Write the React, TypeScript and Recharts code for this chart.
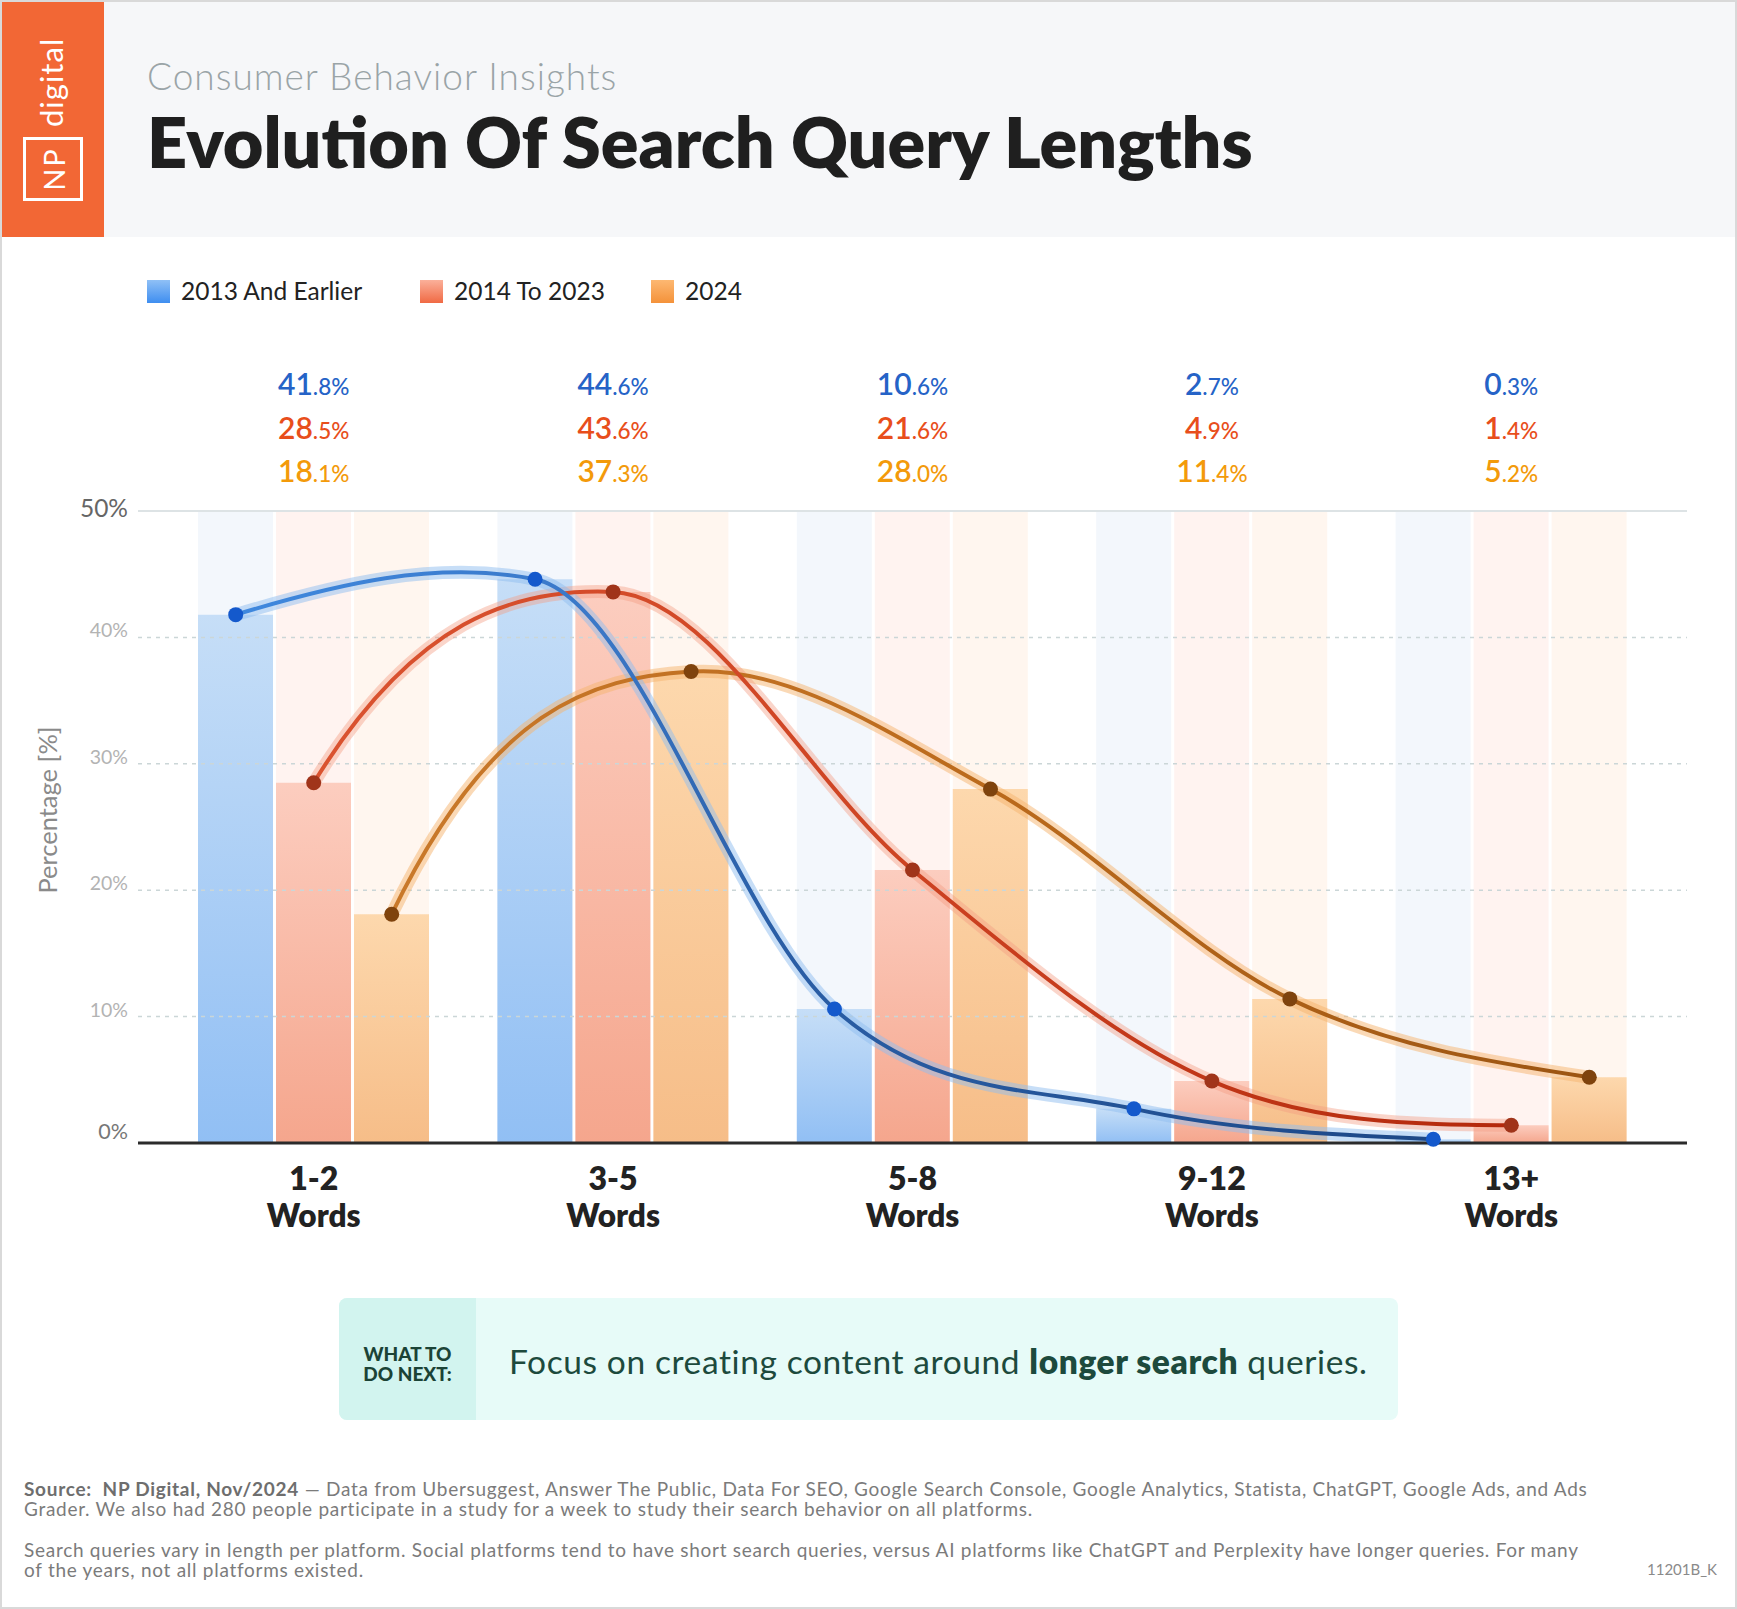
import React from "react";
import { ComposedChart, Bar, Line, XAxis, YAxis, ReferenceLine } from "recharts";

/* ------------------------------------------------------------------ */
/*  DATA                                                               */
/* ------------------------------------------------------------------ */

const CATEGORIES = ["1-2", "3-5", "5-8", "9-12", "13+"];
const CATEGORY_UNIT = "Words";
const EARLIER = [41.8, 44.6, 10.6, 2.7, 0.3];
const MIDDLE = [28.5, 43.6, 21.6, 4.9, 1.4];
const LATEST = [18.1, 37.3, 28.0, 11.4, 5.2];
const SERIES_NAMES = ["2013 And Earlier", "2014 To 2023", "2024"];
const Y_TICKS = [0, 10, 20, 30, 40, 50];
const GRID_TICKS = [10, 20, 30, 40];

const FOOTNOTE_A = [
  "NP Digital, Nov/2024 — Data from Ubersuggest, Answer The Public, Data For SEO, Google Search Console, Google Analytics, Statista, ChatGPT, Google Ads, and Ads",
  "Grader. We also had 280 people participate in a study for a week to study their search behavior on all platforms.",
];
const FOOTNOTE_B = [
  "Search queries vary in length per platform. Social platforms tend to have short search queries, versus AI platforms like ChatGPT and Perplexity have longer queries. For many",
  "of the years, not all platforms existed.",
];

/* ------------------------------------------------------------------ */
/*  LAYOUT + COLOURS                                                   */
/* ------------------------------------------------------------------ */

const W = 1737;
const H = 1609;
const CHART_TOP = 300;
const CHART_H = 960;
const MARGIN = { top: 11, right: 50, bottom: 17, left: 0 };
const Y_AXIS_W = 138;
const PAD = 26;
const BAR = 75;
const GAP = 3;
const BAND = (W - MARGIN.right - Y_AXIS_W - 2 * PAD) / CATEGORIES.length;
const SHIFT = (BAR + GAP) / BAND;

const FONT = "Lato, 'Open Sans', sans-serif";

const C = {
  logo: "#f26735",
  header: "#f6f7f9",
  blueText: "#2563c7",
  redText: "#e84e1b",
  orangeText: "#f39a0a",
  grid: "#cbd6d7",
  axis: "#2b2b2b",
};

// curve: catmull-rom through monotone points, damped at peaks,
// steep pull out of the first point, natural end at the last one
const START_PULL = 0.85;
const PEAK_DAMP = 0.3;

function softSpline(context: any) {
  let pts: [number, number][] = [];
  return {
    areaStart() {},
    areaEnd() {},
    lineStart() { pts = []; },
    point(x: number, y: number) { pts.push([+x, +y]); },
    lineEnd() {
      const n = pts.length;
      if (!n) return;
      context.moveTo(pts[0][0], pts[0][1]);
      if (n === 1) return;
      const sl = (a: [number, number], b: [number, number]) => (b[1] - a[1]) / (b[0] - a[0]);
      const m: number[] = new Array(n).fill(0);
      m[0] = START_PULL * 3 * sl(pts[0], pts[1]);
      for (let i = 1; i < n - 1; i++) {
        const a = sl(pts[i - 1], pts[i]);
        const b = sl(pts[i], pts[i + 1]);
        const cr = sl(pts[i - 1], pts[i + 1]);
        m[i] = a * b > 0 ? cr : PEAK_DAMP * cr;
      }
      m[n - 1] = n > 2 ? (3 * sl(pts[n - 2], pts[n - 1]) - m[n - 2]) / 2 : sl(pts[0], pts[1]);
      for (let i = 0; i < n - 1; i++) {
        const [x0, y0] = pts[i];
        const [x1, y1] = pts[i + 1];
        const h = (x1 - x0) / 3;
        context.bezierCurveTo(x0 + h, y0 + m[i] * h, x1 - h, y1 - m[i + 1] * h, x1, y1);
      }
    },
  };
}

const rows = CATEGORIES.map((cat, i) => ({
  cat,
  earlier: EARLIER[i],
  middle: MIDDLE[i],
  latest: LATEST[i],
}));

const pointsOf = (vals: number[], shift: number) => vals.map((v, i) => ({ pos: i + shift, v }));

const SERIES = [
  { key: "earlier", values: EARLIER, shift: -SHIFT, bar: "url(#barBlue)", bg: "#f3f7fc", halo: "#8fbdf0", haloOp: 0.5, line: "url(#lineBlue)", dot: "#1459cc", legend: "linear-gradient(#8fc0f6, #3f8ef0)" },
  { key: "middle", values: MIDDLE, shift: 0, bar: "url(#barRed)", bg: "#fff3f0", halo: "#f39a80", haloOp: 0.42, line: "url(#lineRed)", dot: "#a0341a", legend: "linear-gradient(#fbb09a, #f06a44)" },
  { key: "latest", values: LATEST, shift: SHIFT, bar: "url(#barOrange)", bg: "#fff6ef", halo: "#f5b46e", haloOp: 0.5, line: "url(#lineOrange)", dot: "#7f430d", legend: "linear-gradient(#fdb872, #f4923a)" },
];

/* ------------------------------------------------------------------ */
/*  TICKS                                                              */
/* ------------------------------------------------------------------ */

const ValueTick = ({ x, y, payload }: any) => {
  const i = CATEGORIES.indexOf(payload.value);
  const lines: [number, string, number][] = [
    [EARLIER[i], C.blueText, -116],
    [MIDDLE[i], C.redText, -72],
    [LATEST[i], C.orangeText, -29],
  ];
  return (
    <g>
      {lines.map(([v, col, dy], r) => {
        const [a, b] = v.toFixed(1).split(".");
        return (
          <text key={r} x={x} y={y + dy} textAnchor="middle" fill={col} fontFamily={FONT}>
            <tspan fontSize={30} fontWeight={600}>{a}</tspan>
            <tspan fontSize={22.5} fontWeight={500}>.{b}%</tspan>
          </text>
        );
      })}
    </g>
  );
};

const CategoryTick = ({ x, y, payload }: any) => (
  <g>
    <text x={x} y={y + 47} textAnchor="middle" fontFamily={FONT} fontSize={32} fontWeight={800} fill="#222">
      {payload.value}
    </text>
    <text x={x} y={y + 84} textAnchor="middle" fontFamily={FONT} fontSize={31.5} fontWeight={800} fill="#222">
      {CATEGORY_UNIT}
    </text>
  </g>
);

const YTick = ({ x, y, payload }: any) => {
  const v = payload.value;
  const top = v === 50;
  const zero = v === 0;
  return (
    <text
      x={x}
      y={top ? y + 6 : zero ? y - 4 : y}
      textAnchor="end"
      fontFamily={FONT}
      fontSize={top ? 24.5 : zero ? 21.5 : 19.5}
      fill={top ? "#666" : zero ? "#777" : "#b3b3b3"}
    >
      {v}%
    </text>
  );
};

const YLabel = ({ viewBox }: any) => {
  if (!viewBox) return null;
  const cx = viewBox.x + 47;
  const cy = viewBox.y + viewBox.height / 2 - 17;
  return (
    <text
      transform={`translate(${cx}, ${cy}) rotate(-90)`}
      textAnchor="middle"
      dominantBaseline="central"
      fontFamily={FONT}
      fontSize={25.5}
      fill="#8a8a8a"
    >
      Percentage [%]
    </text>
  );
};

/* ------------------------------------------------------------------ */
/*  APP                                                                */
/* ------------------------------------------------------------------ */

export default function App() {
  return (
    <div style={{ position: "absolute", left: 0, top: 0, width: W, height: H, background: "#fff", fontFamily: FONT, overflow: "hidden" }}>
      {/* header */}
      <div style={{ position: "absolute", left: 0, top: 0, width: W, height: 237, background: C.header }} />
      <div style={{ position: "absolute", left: 2, top: 2, width: 102, height: 235, background: C.logo }}>
        <div
          style={{
            position: "absolute", left: -31, top: 85, width: 164, height: 64,
            transform: "rotate(-90deg)", display: "flex", alignItems: "center", color: "#fff",
          }}
        >
          <div
            style={{
              width: 64, height: 60, border: "3px solid #fff", boxSizing: "border-box",
              display: "flex", alignItems: "center", justifyContent: "center",
              fontSize: 29, letterSpacing: 2, lineHeight: 1,
            }}
          >
            NP
          </div>
          <div style={{ marginLeft: 10, fontSize: 31, letterSpacing: 1, lineHeight: 1, paddingBottom: 4 }}>digital</div>
        </div>
      </div>
      <div style={{ position: "absolute", left: 147, top: 57, fontSize: 37, lineHeight: "37px", fontWeight: 300, color: "#9aa4a7", whiteSpace: "nowrap", letterSpacing: 1 }}>
        Consumer Behavior Insights
      </div>
      <div style={{ position: "absolute", left: 147, top: 106, fontSize: 70, lineHeight: "70px", fontWeight: 800, color: "#1f1f1f", whiteSpace: "nowrap" }}>
        Evolution Of Search Query Lengths
      </div>

      {/* legend */}
      <div style={{ position: "absolute", left: 147, top: 279, display: "flex", alignItems: "center" }}>
        {SERIES.map((s, i) => (
          <div key={s.key} style={{ display: "flex", alignItems: "center", width: i === 0 ? 273 : i === 1 ? 231 : 150 }}>
            <div style={{ width: 23, height: 23, background: s.legend }} />
            <div style={{ marginLeft: 11, fontSize: 24.5, lineHeight: "24px", color: "#222", whiteSpace: "nowrap" }}>{SERIES_NAMES[i]}</div>
          </div>
        ))}
      </div>

      {/* chart */}
      <div style={{ position: "absolute", left: 0, top: CHART_TOP }}>
        <ComposedChart width={W} height={CHART_H} data={rows} margin={MARGIN} barGap={GAP} barSize={BAR}>
          <defs>
            <linearGradient id="barBlue" x1="0" y1="0" x2="0" y2="1">
              <stop offset="0%" stopColor="#c6def7" />
              <stop offset="100%" stopColor="#91bff4" />
            </linearGradient>
            <linearGradient id="barRed" x1="0" y1="0" x2="0" y2="1">
              <stop offset="0%" stopColor="#fccdbf" />
              <stop offset="100%" stopColor="#f5a68d" />
            </linearGradient>
            <linearGradient id="barOrange" x1="0" y1="0" x2="0" y2="1">
              <stop offset="0%" stopColor="#fdd8ad" />
              <stop offset="100%" stopColor="#f6bd88" />
            </linearGradient>
            <linearGradient id="lineBlue" x1="0" y1="0" x2="1" y2="0">
              <stop offset="0%" stopColor="#3f88de" />
              <stop offset="30%" stopColor="#3a78c8" />
              <stop offset="45%" stopColor="#2a5ea6" />
              <stop offset="100%" stopColor="#1d4887" />
            </linearGradient>
            <linearGradient id="lineRed" x1="0" y1="0" x2="1" y2="0">
              <stop offset="0%" stopColor="#da5330" />
              <stop offset="45%" stopColor="#cf4524" />
              <stop offset="100%" stopColor="#b3290c" />
            </linearGradient>
            <linearGradient id="lineOrange" x1="0" y1="0" x2="1" y2="0">
              <stop offset="0%" stopColor="#c9792a" />
              <stop offset="50%" stopColor="#bb6a1c" />
              <stop offset="100%" stopColor="#9c5512" />
            </linearGradient>
          </defs>

          <XAxis
            xAxisId="cat" dataKey="cat" type="category"
            padding={{ left: PAD, right: PAD }}
            height={100} tickSize={0} tickMargin={0}
            axisLine={{ stroke: C.axis, strokeWidth: 3 }} tickLine={false}
            tick={<CategoryTick />} interval={0}
          />
          <XAxis
            xAxisId="top" dataKey="cat" type="category" orientation="top"
            padding={{ left: PAD, right: PAD }}
            height={200} tickSize={0} tickMargin={0}
            axisLine={false} tickLine={false}
            tick={<ValueTick />} interval={0}
          />
          <XAxis
            xAxisId="n" dataKey="pos" type="number"
            domain={[-0.5, CATEGORIES.length - 0.5]} allowDataOverflow
            padding={{ left: PAD, right: PAD }} hide
          />
          <YAxis
            type="number" domain={[0, 50]} ticks={Y_TICKS} width={Y_AXIS_W}
            axisLine={false} tickLine={false} tickSize={0} tickMargin={10}
            tick={<YTick />} interval={0} label={<YLabel />}
          />

          {SERIES.map((s) => (
            <Bar
              key={`bar-${s.key}`} xAxisId="cat" dataKey={s.key}
              fill={s.bar} background={{ fill: s.bg }}
              isAnimationActive={false} legendType="none"
            />
          ))}

          {GRID_TICKS.map((t) => (
            <ReferenceLine key={`g-${t}`} xAxisId="cat" y={t} stroke={C.grid} strokeWidth={1.5} strokeDasharray="4 5" />
          ))}
          <ReferenceLine xAxisId="cat" y={50} stroke="#dde3e5" strokeWidth={2} />

          {[...SERIES].reverse().map((s) => (
            <Line
              key={`halo-${s.key}`} xAxisId="n" data={pointsOf(s.values, s.shift)} dataKey="v"
              type={softSpline as any} stroke={s.halo} strokeOpacity={s.haloOp} strokeWidth={13}
              strokeLinecap="round" dot={false} activeDot={false} isAnimationActive={false} legendType="none"
            />
          ))}
          {[...SERIES].reverse().map((s) => (
            <Line
              key={`line-${s.key}`} xAxisId="n" data={pointsOf(s.values, s.shift)} dataKey="v"
              type={softSpline as any} stroke={s.line} strokeWidth={4}
              dot={{ r: 7.5, fill: s.dot, stroke: s.dot, strokeWidth: 0 }}
              activeDot={false} isAnimationActive={false} legendType="none"
            />
          ))}
        </ComposedChart>
      </div>

      {/* call-out */}
      <div style={{ position: "absolute", left: 339, top: 1298, width: 1059, height: 122, borderRadius: 8, background: "#e7fbf8", overflow: "hidden" }}>
        <div style={{ position: "absolute", left: 0, top: 0, width: 137, height: 122, background: "#d2f4ef" }} />
        <div style={{ position: "absolute", left: 0, top: 46, width: 137, textAlign: "center", fontSize: 19, lineHeight: "20px", fontWeight: 900, color: "#1b4336" }}>
          WHAT TO<br />DO NEXT:
        </div>
        <div style={{ position: "absolute", left: 170, top: 47, fontSize: 33.5, lineHeight: "33px", color: "#1d4a3d", whiteSpace: "nowrap", letterSpacing: 0.6 }}>
          Focus on creating content around <b style={{ fontWeight: 800 }}>longer search</b> queries.
        </div>
      </div>

      {/* footnotes */}
      <div style={{ position: "absolute", left: 24, top: 1479, fontSize: 19, lineHeight: "20px", color: "#7b7b7b", whiteSpace: "pre", letterSpacing: 0.72 }}>
        <div><b style={{ fontWeight: 700, color: "#6e6e6e" }}>Source:  </b><b style={{ fontWeight: 700, color: "#6e6e6e" }}>{FOOTNOTE_A[0].split(" — ")[0]}</b>{" — " + FOOTNOTE_A[0].split(" — ")[1]}</div>
        <div>{FOOTNOTE_A[1]}</div>
        <div style={{ marginTop: 21 }}>{FOOTNOTE_B[0]}</div>
        <div>{FOOTNOTE_B[1]}</div>
      </div>
      <div style={{ position: "absolute", left: 1647, top: 1562, fontSize: 15, lineHeight: "15px", color: "#8a8a8a" }}>11201B_K</div>

      {/* frame */}
      <div style={{ position: "absolute", left: 0, top: 0, width: W, height: H, boxSizing: "border-box", border: "2px solid #d9d9d9", pointerEvents: "none" }} />
    </div>
  );
}
